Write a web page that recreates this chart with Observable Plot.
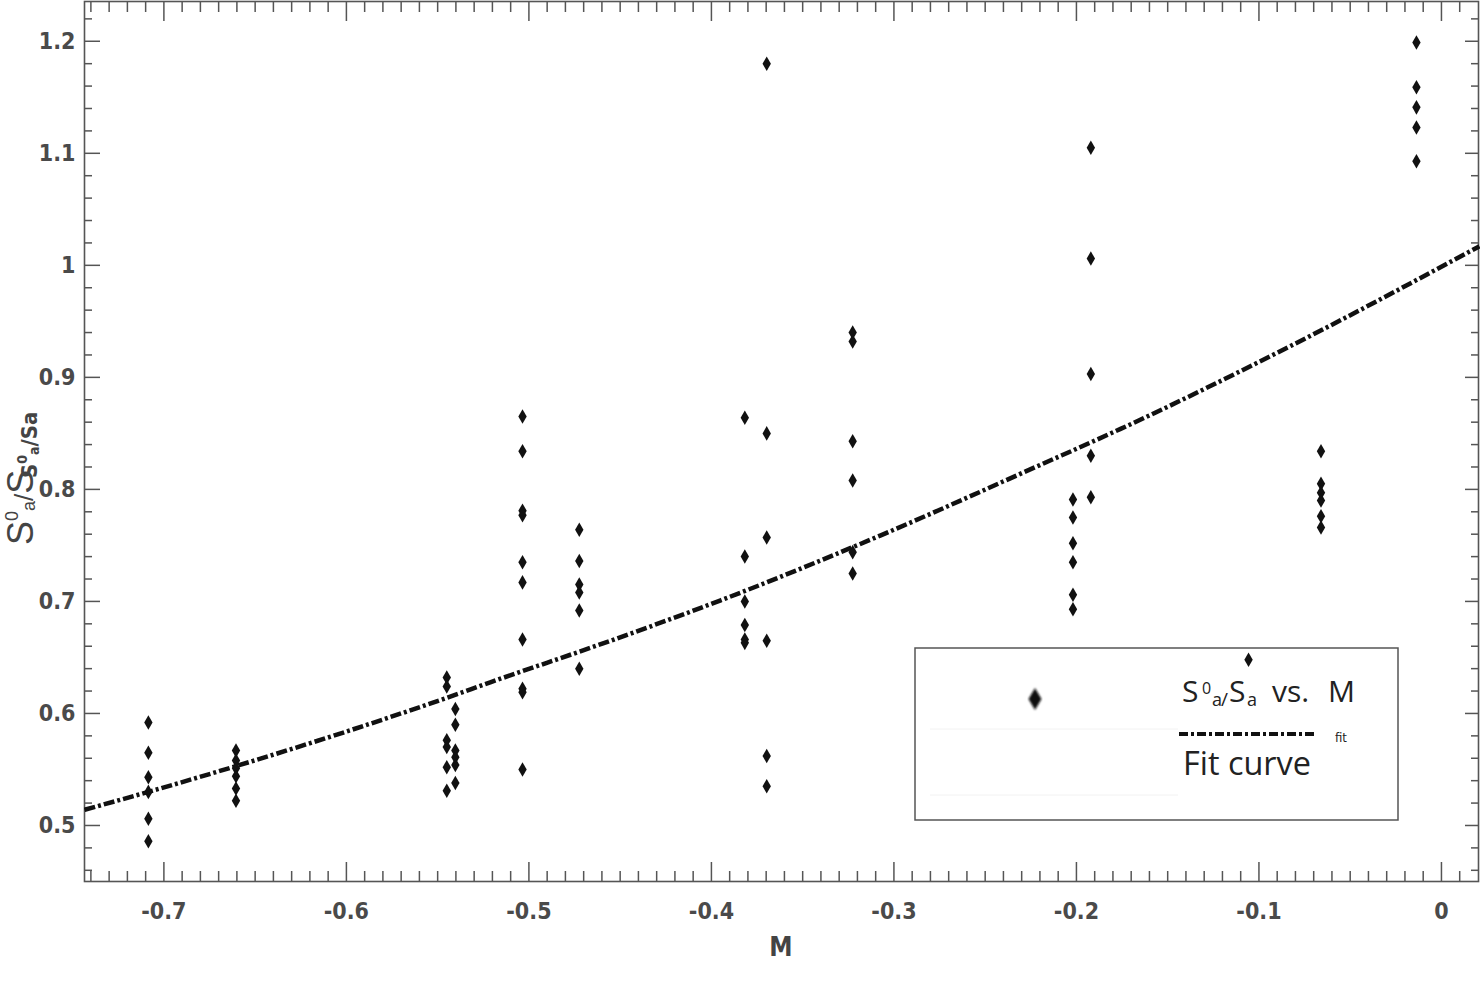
<!DOCTYPE html>
<html>
<head>
<meta charset="utf-8">
<script src="https://cdn.jsdelivr.net/npm/d3@7"></script>
<script src="https://cdn.jsdelivr.net/npm/@observablehq/plot@0.6"></script>
<style>
html, body { margin: 0; padding: 0; background: #fff; }
#chart { width: 1480px; height: 986px; }
</style>
</head>
<body>
<div id="chart"></div>
<script>
// ---- data ----
const mLevels = [-0.7085, -0.6605, -0.545, -0.5403, -0.5035, -0.4724, -0.3817, -0.3697, -0.3226, -0.2019, -0.1921, -0.1057, -0.066, -0.0137];
const ratioByLevel = [
  [0.592, 0.565, 0.543, 0.530, 0.506, 0.486],
  [0.567, 0.558, 0.551, 0.544, 0.533, 0.522],
  [0.632, 0.624, 0.576, 0.570, 0.552, 0.531],
  [0.604, 0.590, 0.567, 0.561, 0.554, 0.538],
  [0.865, 0.834, 0.781, 0.777, 0.735, 0.717, 0.666, 0.622, 0.619, 0.550],
  [0.764, 0.736, 0.715, 0.708, 0.692, 0.640],
  [0.864, 0.740, 0.700, 0.679, 0.666, 0.663],
  [1.180, 0.850, 0.757, 0.665, 0.562, 0.535],
  [0.940, 0.932, 0.843, 0.808, 0.744, 0.725],
  [0.791, 0.775, 0.752, 0.735, 0.706, 0.693],
  [1.105, 1.006, 0.903, 0.830, 0.793],
  [0.648],
  [0.834, 0.805, 0.797, 0.790, 0.776, 0.766],
  [1.199, 1.159, 1.141, 1.123, 1.093]
];
const fitM = [-0.7435, -0.7085, -0.6605, -0.545, -0.5208, -0.4551, -0.3949, -0.3072, -0.2196, -0.1758, -0.0827, 0.0208];
const fitRatio = [0.514, 0.530, 0.553, 0.614, 0.628, 0.665, 0.701, 0.759, 0.822, 0.854, 0.928, 1.017];

const xTicks = [-0.7, -0.6, -0.5, -0.4, -0.3, -0.2, -0.1, 0];
const xTickLabels = ["-0.7", "-0.6", "-0.5", "-0.4", "-0.3", "-0.2", "-0.1", "0"];
const yTicks = [0.5, 0.6, 0.7, 0.8, 0.9, 1.0, 1.1, 1.2];
const yTickLabels = ["0.5", "0.6", "0.7", "0.8", "0.9", "1", "1.1", "1.2"];
const xMinor = d3.range(-74, 2).filter(i => i % 10 !== 0).map(i => i / 100);
const yMinor = d3.range(23, 62).filter(i => i % 5 !== 0).map(i => i * 0.02);

// ---- tables ----
const points = mLevels.flatMap((m, i) => ratioByLevel[i].map(r => ({m, r})));
const fit = fitM.map((m, i) => ({m, r: fitRatio[i]}));

const axisCol = "#555";
const labelCol = "#4a4a4a";
const narrow = "'Liberation Sans Narrow', 'Arial Narrow', 'DejaVu Sans Condensed', 'Liberation Sans', sans-serif";
const fmt = (ticks, labels) => d => labels[ticks.findIndex(t => Math.abs(t - d) < 1e-9)];
const noText = () => "";

const plot = Plot.plot({
  width: 1480,
  height: 986,
  marginLeft: 84,
  marginRight: 2,
  marginTop: 1,
  marginBottom: 105,
  style: {fontFamily: narrow, fontSize: "23px", fontWeight: "bold", background: "#fff"},
  x: {domain: [-0.7435, 0.0203], label: null},
  y: {domain: [0.45, 1.2355], label: null},
  marks: [
    Plot.frame({stroke: axisCol, strokeWidth: 1.6}),
    // inward ticks, all four sides
    Plot.axisX(xTicks, {anchor: "bottom", tickSize: -19, tickFormat: noText, stroke: axisCol, strokeWidth: 1.5, label: null}),
    Plot.axisX(xMinor, {anchor: "bottom", tickSize: -10, tickFormat: noText, stroke: axisCol, strokeWidth: 1.5, label: null}),
    Plot.axisX(xTicks, {anchor: "top", tickSize: -19, tickFormat: noText, stroke: axisCol, strokeWidth: 1.5, label: null}),
    Plot.axisX(xMinor, {anchor: "top", tickSize: -10, tickFormat: noText, stroke: axisCol, strokeWidth: 1.5, label: null}),
    Plot.axisY(yTicks, {anchor: "left", tickSize: -16, tickFormat: noText, stroke: axisCol, strokeWidth: 1.5, label: null}),
    Plot.axisY(yMinor, {anchor: "left", tickSize: -8, tickFormat: noText, stroke: axisCol, strokeWidth: 1.5, label: null}),
    Plot.axisY(yTicks, {anchor: "right", tickSize: -14, tickFormat: noText, stroke: axisCol, strokeWidth: 1.5, label: null}),
    Plot.axisY(yMinor, {anchor: "right", tickSize: -8, tickFormat: noText, stroke: axisCol, strokeWidth: 1.5, label: null}),
    // tick labels
    Plot.axisX(xTicks, {anchor: "bottom", tickSize: 0, tickPadding: 21, tickFormat: fmt(xTicks, xTickLabels), fill: labelCol, fontSize: 23, fontWeight: "bold", label: null}),
    Plot.axisY(yTicks, {anchor: "left", tickSize: 0, tickPadding: 9, tickFormat: fmt(yTicks, yTickLabels), fill: labelCol, fontSize: 23, fontWeight: "bold", label: null}),
    // fit curve
    Plot.line(fit, {x: "m", y: "r", stroke: "#111", strokeWidth: 4.5, strokeDasharray: "11,3,3,3", strokeLinecap: "butt", curve: "monotone-x"}),
    // data
    Plot.dot(points, {x: "m", y: "r", symbol: "diamond", r: 4.4, fill: "#111", stroke: null})
  ]
});

document.getElementById("chart").appendChild(plot);

const svg = d3.select(plot);
svg.selectAll("g[aria-label='line'] path")
  .attr("stroke-dasharray", "11,3,3,3").attr("stroke-linecap", "butt");

// blur filters
const defs = svg.append("defs");
defs.append("filter").attr("id", "blur1").append("feGaussianBlur").attr("stdDeviation", 1.2);
defs.append("filter").attr("id", "blur2").append("feGaussianBlur").attr("stdDeviation", 0.9);

// axis titles
svg.append("text")
  .attr("x", 781).attr("y", 947)
  .attr("text-anchor", "middle").attr("dominant-baseline", "central")
  .attr("font-family", narrow).attr("font-weight", "bold").attr("font-size", 26)
  .attr("fill", "#444").text("M");

const yl = svg.append("text")
  .attr("transform", "translate(33,545) rotate(-90)")
  .attr("text-anchor", "start")
  .attr("font-family", "'Liberation Sans', Arial, sans-serif").attr("font-weight", "normal")
  .attr("font-size", 36).attr("fill", "#444");
yl.append("tspan").text("S");
yl.append("tspan").attr("font-size", 18).attr("dy", -15).text("0");
yl.append("tspan").attr("font-size", 18).attr("dy", 17).text("a");
yl.append("tspan").attr("font-size", 26).attr("dy", -2).text("/");
yl.append("tspan").attr("font-size", 36).text("S");

const yl2 = svg.append("text")
  .attr("transform", "translate(37,478) rotate(-90)")
  .attr("text-anchor", "start")
  .attr("font-family", narrow).attr("font-weight", "bold")
  .attr("font-size", 22).attr("fill", "#444");
yl2.append("tspan").text("S");
yl2.append("tspan").attr("font-size", 14).attr("dy", -10).text("0");
yl2.append("tspan").attr("font-size", 14).attr("dy", 12).text("a");
yl2.append("tspan").attr("font-size", 22).attr("dy", -2).text("/Sa");

// legend box (behind the data points)
const lg = svg.insert("g", "g[aria-label='dot']")
  .attr("font-weight", "normal").attr("text-anchor", "start");
lg.append("rect").attr("x", 915).attr("y", 648).attr("width", 483).attr("height", 172)
  .attr("fill", "#fff").attr("stroke", axisCol).attr("stroke-width", 1.5);
lg.append("line").attr("x1", 930).attr("x2", 1178).attr("y1", 729).attr("y2", 729).attr("stroke", "#f2f2f2");
lg.append("line").attr("x1", 930).attr("x2", 1178).attr("y1", 795).attr("y2", 795).attr("stroke", "#f2f2f2");
lg.append("path").attr("d", "M1035,688 L1041.5,699 L1035,710 L1028.5,699 Z")
  .attr("fill", "#111").attr("filter", "url(#blur1)");
lg.append("line").attr("x1", 1179).attr("x2", 1317).attr("y1", 734).attr("y2", 734)
  .attr("stroke", "#111").attr("stroke-width", 4).attr("stroke-dasharray", "9,3,3,3");
lg.append("line").attr("x1", 956).attr("x2", 1157).attr("y1", 766).attr("y2", 766)
  .attr("stroke", "#222").attr("stroke-width", 4.5).attr("stroke-dasharray", "10,3,3,3")
  .attr("filter", "url(#blur2)");
lg.append("text").attr("x", 1335).attr("y", 742)
  .attr("font-family", narrow).attr("font-size", 13).attr("fill", "#222").text("fit");

const lt = lg.append("text").attr("y", 702)
  .attr("font-family", "'Open Sans', 'Noto Sans', sans-serif").attr("font-size", 30).attr("fill", "#222");
lt.append("tspan").attr("x", 1182).text("S");
lt.append("tspan").attr("x", 1202).attr("y", 694).attr("font-size", 16).text("0");
lt.append("tspan").attr("x", 1212).attr("y", 706).attr("font-size", 18).text("a");
lt.append("tspan").attr("x", 1221).attr("y", 706).attr("font-size", 19).text("/");
lt.append("tspan").attr("x", 1229).attr("y", 702).attr("font-size", 30).text("S");
lt.append("tspan").attr("x", 1247).attr("y", 706).attr("font-size", 18).text("a");
lt.append("tspan").attr("x", 1272).attr("y", 702).attr("font-size", 30).text("vs.");
lt.append("tspan").attr("x", 1328).attr("y", 702).attr("font-size", 30).text("M");

lg.append("text").attr("x", 1183).attr("y", 775)
  .attr("font-family", "'Open Sans', 'Noto Sans', sans-serif").attr("font-size", 33)
  .attr("fill", "#222").attr("textLength", 128).attr("lengthAdjust", "spacingAndGlyphs")
  .text("Fit curve");
</script>
</body>
</html>
